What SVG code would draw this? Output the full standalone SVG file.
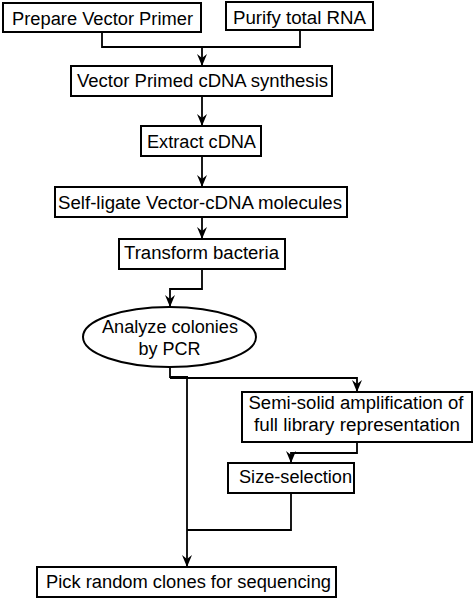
<svg xmlns="http://www.w3.org/2000/svg" width="474" height="600" viewBox="0 0 474 600">
<defs>
<style>
.box{fill:#fff;stroke:#000;stroke-width:2}
.t{font-family:"Liberation Sans","DejaVu Sans",sans-serif;font-size:18px;fill:#000;text-anchor:middle}
.c{fill:none;stroke:#000;stroke-width:1.8}
</style>
<marker id="ah" viewBox="0 0 12 10" refX="12" refY="5" markerWidth="12" markerHeight="10" markerUnits="userSpaceOnUse" orient="auto">
<path d="M0,0 L4,5 L0,10 L12,5 Z" fill="#000"/>
</marker>
</defs>
<rect width="474" height="600" fill="#fff"/>
<g id="connectors">
<path class="c" d="M102,32 V47 H300 V30"/>
<path class="c" d="M202,47 V66" marker-end="url(#ah)"/>
<path class="c" d="M202,96 V126" marker-end="url(#ah)"/>
<path class="c" d="M202,156 V187" marker-end="url(#ah)"/>
<path class="c" d="M202,217 V239" marker-end="url(#ah)"/>
<path class="c" d="M202,269 V289 H170 V307" marker-end="url(#ah)"/>
<path class="c" d="M170,367 V378"/>
<path fill="none" stroke="#000" stroke-width="3" d="M170,377.5 H188"/>
<path class="c" d="M187,378 H357 V392" marker-end="url(#ah)"/>
<path class="c" d="M357,442 V453 H291 V463" marker-end="url(#ah)"/>
<path class="c" d="M291,493 V530 H187"/>
<path class="c" d="M187,378 V567" marker-end="url(#ah)"/>
</g>
<g id="prepare">
<rect class="box" x="3" y="3" width="198" height="29"/>
<text class="t" x="102.5" y="24.5" textLength="181" lengthAdjust="spacingAndGlyphs">Prepare Vector Primer</text>
</g>
<g id="purify">
<rect class="box" x="226" y="2" width="147" height="28"/>
<text class="t" x="299.5" y="24" textLength="133" lengthAdjust="spacingAndGlyphs">Purify total RNA</text>
</g>
<g id="synthesis">
<rect class="box" x="71" y="66" width="261" height="30"/>
<text class="t" x="202.5" y="87" textLength="251" lengthAdjust="spacingAndGlyphs">Vector Primed cDNA synthesis</text>
</g>
<g id="extract">
<rect class="box" x="141" y="126" width="120" height="30"/>
<text class="t" x="201.5" y="148" textLength="109" lengthAdjust="spacingAndGlyphs">Extract cDNA</text>
</g>
<g id="ligate">
<rect class="box" x="55" y="187" width="292" height="30"/>
<text class="t" x="200" y="209" textLength="284" lengthAdjust="spacingAndGlyphs">Self-ligate Vector-cDNA molecules</text>
</g>
<g id="transform">
<rect class="box" x="119" y="239" width="166" height="30"/>
<text class="t" x="201.5" y="259" textLength="155" lengthAdjust="spacingAndGlyphs">Transform bacteria</text>
</g>
<g id="analyze">
<ellipse class="box" cx="169.5" cy="337" rx="86.5" ry="30"/>
<text class="t" x="170" y="333" textLength="136" lengthAdjust="spacingAndGlyphs">Analyze colonies</text>
<text class="t" x="169.5" y="355">by PCR</text>
</g>
<g id="semisolid">
<rect class="box" x="242" y="392" width="230" height="50"/>
<text class="t" x="356" y="409" textLength="215" lengthAdjust="spacingAndGlyphs">Semi-solid amplification of</text>
<text class="t" x="357" y="431" textLength="206" lengthAdjust="spacingAndGlyphs">full library representation</text>
</g>
<g id="size">
<rect class="box" x="228" y="463" width="126" height="30"/>
<text class="t" x="295.5" y="483" textLength="113" lengthAdjust="spacingAndGlyphs">Size-selection</text>
</g>
<g id="pick">
<rect class="box" x="37" y="567" width="299" height="30"/>
<text class="t" x="188.5" y="588" textLength="285" lengthAdjust="spacingAndGlyphs">Pick random clones for sequencing</text>
</g>
</svg>
